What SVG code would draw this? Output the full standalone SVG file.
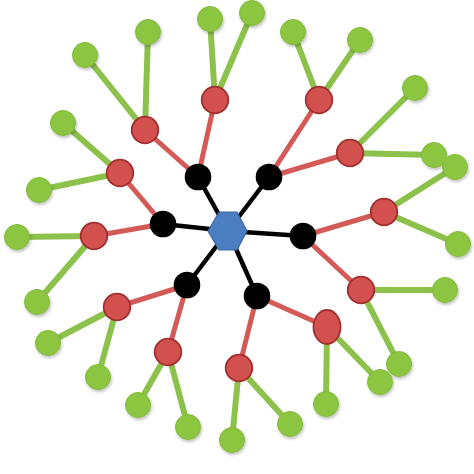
<svg xmlns="http://www.w3.org/2000/svg" width="474" height="474" viewBox="0 0 474 474">
<style>
.eg{stroke:#8cc24c;stroke-width:6;stroke-linecap:round}
.er{stroke:#d45a57;stroke-width:5;stroke-linecap:round}
.eb{stroke:#000;stroke-width:4.5;stroke-linecap:round}
.g{fill:#8cc63f;stroke:#82b83a;stroke-width:1}
.r{fill:#d2504d;stroke:#a03030;stroke-width:1.8}
.b{fill:#000}
.h{fill:#4a7ec0;stroke:#3b6aa6;stroke-width:1.2}
</style>
<defs>
<filter id="sh" x="-30%" y="-30%" width="160%" height="160%">
<feDropShadow dx="1" dy="2" stdDeviation="1.5" flood-color="#000" flood-opacity="0.25"/>
</filter>
</defs>
<rect width="474" height="474" fill="#fff"/>
<g id="connectors">
<line class="eg" x1="145" y1="130" x2="85" y2="55"/>
<line class="eg" x1="145" y1="130" x2="148" y2="32"/>
<line class="eg" x1="215" y1="100" x2="210" y2="19"/>
<line class="eg" x1="215" y1="100" x2="252" y2="13"/>
<line class="eg" x1="319" y1="100" x2="293" y2="32"/>
<line class="eg" x1="319" y1="100" x2="360" y2="40"/>
<line class="eg" x1="350" y1="153" x2="415" y2="88"/>
<line class="eg" x1="350" y1="153" x2="434" y2="155"/>
<line class="eg" x1="384" y1="212" x2="455" y2="167"/>
<line class="eg" x1="384" y1="212" x2="458" y2="244"/>
<line class="eg" x1="361" y1="290" x2="445" y2="290"/>
<line class="eg" x1="361" y1="290" x2="399" y2="364"/>
<line class="eg" x1="327" y1="327" x2="380" y2="382"/>
<line class="eg" x1="327" y1="327" x2="326" y2="404"/>
<line class="eg" x1="239" y1="368" x2="290" y2="424"/>
<line class="eg" x1="239" y1="368" x2="232" y2="440"/>
<line class="eg" x1="168" y1="352" x2="188" y2="427"/>
<line class="eg" x1="168" y1="352" x2="138" y2="405"/>
<line class="eg" x1="117" y1="307" x2="98" y2="377"/>
<line class="eg" x1="117" y1="307" x2="48" y2="343"/>
<line class="eg" x1="94" y1="236" x2="37" y2="302"/>
<line class="eg" x1="94" y1="236" x2="17" y2="237"/>
<line class="eg" x1="120" y1="173" x2="39" y2="190"/>
<line class="eg" x1="120" y1="173" x2="63" y2="123"/>
<line class="er" x1="198" y1="177" x2="145" y2="130"/>
<line class="er" x1="198" y1="177" x2="215" y2="100"/>
<line class="er" x1="269" y1="177" x2="319" y2="100"/>
<line class="er" x1="269" y1="177" x2="350" y2="153"/>
<line class="er" x1="163" y1="224" x2="120" y2="173"/>
<line class="er" x1="163" y1="224" x2="94" y2="236"/>
<line class="er" x1="303" y1="236" x2="384" y2="212"/>
<line class="er" x1="303" y1="236" x2="361" y2="290"/>
<line class="er" x1="187" y1="285" x2="117" y2="307"/>
<line class="er" x1="187" y1="285" x2="168" y2="352"/>
<line class="er" x1="257" y1="296" x2="327" y2="327"/>
<line class="er" x1="257" y1="296" x2="239" y2="368"/>
<line class="eb" x1="228" y1="231" x2="198" y2="177"/>
<line class="eb" x1="228" y1="231" x2="269" y2="177"/>
<line class="eb" x1="228" y1="231" x2="163" y2="224"/>
<line class="eb" x1="228" y1="231" x2="303" y2="236"/>
<line class="eb" x1="228" y1="231" x2="187" y2="285"/>
<line class="eb" x1="228" y1="231" x2="257" y2="296"/>
</g>
<g id="green-nodes" filter="url(#sh)">
<g id="g1"><circle class="g" cx="85" cy="55" r="12.5"/></g>
<g id="g2"><circle class="g" cx="148" cy="32" r="12.5"/></g>
<g id="g3"><circle class="g" cx="210" cy="19" r="12.5"/></g>
<g id="g4"><circle class="g" cx="252" cy="13" r="12.5"/></g>
<g id="g5"><circle class="g" cx="293" cy="32" r="12.5"/></g>
<g id="g6"><circle class="g" cx="360" cy="40" r="12.5"/></g>
<g id="g7"><circle class="g" cx="415" cy="88" r="12.5"/></g>
<g id="g8"><circle class="g" cx="434" cy="155" r="12.5"/></g>
<g id="g9"><circle class="g" cx="455" cy="167" r="12.5"/></g>
<g id="g10"><circle class="g" cx="458" cy="244" r="12.5"/></g>
<g id="g11"><circle class="g" cx="445" cy="290" r="12.5"/></g>
<g id="g12"><circle class="g" cx="399" cy="364" r="12.5"/></g>
<g id="g13"><circle class="g" cx="380" cy="382" r="12.5"/></g>
<g id="g14"><circle class="g" cx="326" cy="404" r="12.5"/></g>
<g id="g15"><circle class="g" cx="290" cy="424" r="12.5"/></g>
<g id="g16"><circle class="g" cx="232" cy="440" r="12.5"/></g>
<g id="g17"><circle class="g" cx="188" cy="427" r="12.5"/></g>
<g id="g18"><circle class="g" cx="138" cy="405" r="12.5"/></g>
<g id="g19"><circle class="g" cx="98" cy="377" r="12.5"/></g>
<g id="g20"><circle class="g" cx="48" cy="343" r="12.5"/></g>
<g id="g21"><circle class="g" cx="37" cy="302" r="12.5"/></g>
<g id="g22"><circle class="g" cx="17" cy="237" r="12.5"/></g>
<g id="g23"><circle class="g" cx="39" cy="190" r="12.5"/></g>
<g id="g24"><circle class="g" cx="63" cy="123" r="12.5"/></g>
</g>
<g id="red-nodes">
<g id="r1"><circle class="r" cx="145" cy="130" r="13.3"/></g>
<g id="r2"><circle class="r" cx="215" cy="100" r="13.3"/></g>
<g id="r3"><circle class="r" cx="319" cy="100" r="13.3"/></g>
<g id="r4"><circle class="r" cx="350" cy="153" r="13.3"/></g>
<g id="r5"><circle class="r" cx="120" cy="173" r="13.3"/></g>
<g id="r6"><circle class="r" cx="94" cy="236" r="13.3"/></g>
<g id="r7"><circle class="r" cx="384" cy="212" r="13.3"/></g>
<g id="r8"><circle class="r" cx="361" cy="290" r="13.3"/></g>
<g id="r9"><circle class="r" cx="117" cy="307" r="13.3"/></g>
<g id="r10"><circle class="r" cx="168" cy="352" r="13.3"/></g>
<g id="r11"><ellipse class="r" cx="327" cy="327" rx="13.5" ry="17"/></g>
<g id="r12"><circle class="r" cx="239" cy="368" r="13.3"/></g>
</g>
<g id="black-nodes">
<g id="b1"><circle class="b" cx="198" cy="177" r="13.3"/></g>
<g id="b2"><circle class="b" cx="269" cy="177" r="13.3"/></g>
<g id="b3"><circle class="b" cx="163" cy="224" r="13.3"/></g>
<g id="b4"><circle class="b" cx="303" cy="236" r="13.3"/></g>
<g id="b5"><circle class="b" cx="187" cy="285" r="13.3"/></g>
<g id="b6"><circle class="b" cx="257" cy="296" r="13.3"/></g>
</g>
<g id="center">
<polygon class="h" points="208,231 219,212 237,212 247,231 237,250 219,250"/>
</g>
</svg>
